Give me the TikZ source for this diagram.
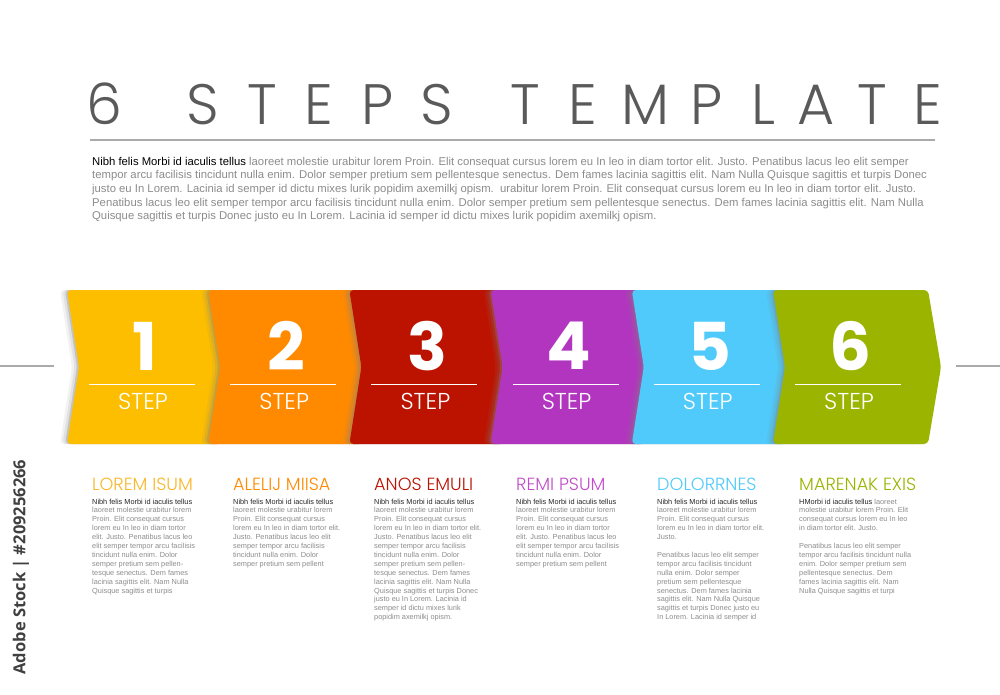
\documentclass[tikz,border=0pt]{standalone}
\usepackage{fontspec}
\setmainfont{Liberation Sans}
\newfontfamily\thinfont{Poppins Light}
\newfontfamily\numfont{Poppins}
\newfontfamily\markfont{Open Sans}
\usetikzlibrary{shadows}

\definecolor{stepyellow}{HTML}{FDBE00}
\definecolor{steporange}{HTML}{FF8A00}
\definecolor{stepred}{HTML}{BC1200}
\definecolor{steppurple}{HTML}{B235BF}
\definecolor{stepblue}{HTML}{50CAFA}
\definecolor{stepgreen}{HTML}{9AB400}
\definecolor{headyellow}{HTML}{F9B82A}
\definecolor{headpurple}{HTML}{C24CCB}
\definecolor{textgray}{HTML}{8C8C8C}
\definecolor{titlegray}{HTML}{5A5A5A}
\definecolor{rulegray}{HTML}{AAAAAA}

\tikzset{
  titlechar/.style={anchor=base, text=titlegray, inner sep=0,
    font=\thinfont\fontsize{57}{57}\selectfont},
  stepnum/.style={text=white, inner sep=0,
    font=\numfont\bfseries\fontsize{66}{66}\selectfont},
  steplabel/.style={text=white, inner sep=0,
    font=\thinfont\fontsize{23}{23}\selectfont},
  colhead/.style={anchor=base west, inner sep=0,
    font=\thinfont\fontsize{17.6}{17.6}\selectfont},
  coltext/.style={anchor=north west, align=left, inner sep=0, text=textgray,
    font=\fontsize{7.35}{8.9}\selectfont},
}

\begin{document}
\begin{tikzpicture}[x=1pt,y=-1pt]
      \fill[white] (0,0) rectangle (1000,695);
      \useasboundingbox (0,0) rectangle (1000,695);
      % title
      \foreach \ch/\xx [count=\k] in {6/104,S/203,T/262,E/319,P/378,S/437,T/525,
          E/583,M/645,P/707,L/763,A/816,T/872,E/928}
        \node[titlechar] (title\k) at (\xx,125) {\ch};
      \draw [rulegray,line width=1.5pt] (90,140) -- (935,140);
      \node [anchor=north west,align=left,inner sep=0,text=textgray,
        font=\fontsize{11.3}{13.6}\selectfont] (intro) at (92,157)
        {\textcolor{black}{Nibh felis Morbi id iaculis tellus} laoreet molestie urabitur lorem Proin. Elit consequat cursus lorem eu In leo in diam tortor elit. Justo. Penatibus lacus leo elit semper\\
        tempor arcu facilisis tincidunt nulla enim. Dolor semper pretium sem pellentesque senectus. Dem fames lacinia sagittis elit. Nam Nulla Quisque sagittis et turpis Donec\\
        justo eu In Lorem. Lacinia id semper id dictu mixes lurik popidim axemilkj opism.\ \ urabitur lorem Proin. Elit consequat cursus lorem eu In leo in diam tortor elit. Justo.\\
        Penatibus lacus leo elit semper tempor arcu facilisis tincidunt nulla enim. Dolor semper pretium sem pellentesque senectus. Dem fames lacinia sagittis elit. Nam Nulla\\
        Quisque sagittis et turpis Donec justo eu In Lorem. Lacinia id semper id dictu mixes lurik popidim axemilkj opism.};
      % side lines
      \draw [rulegray,line width=1.2pt] (0,366) -- (54,366);
      \draw [rulegray,line width=1.2pt] (956,366) -- (1000,366);
      % steps
      \foreach \i/\col in {1/stepyellow,2/steporange,3/stepred,4/steppurple,5/stepblue,6/stepgreen}{
        \pgfmathsetmacro\xo{67+141.2*(\i-1)}
        \fill [\col,rounded corners=4pt,
          drop shadow={shadow xshift=-7pt,shadow yshift=0pt,opacity=.1},
          drop shadow={shadow xshift=-4.5pt,shadow yshift=0pt,opacity=.15},
          drop shadow={shadow xshift=-2pt,shadow yshift=0pt,opacity=.3}]
          (\xo,290) -- (\xo+155,290) -- (\xo+168,367) -- (\xo+155,444)
          -- (\xo,444) -- (\xo+12,367) -- cycle;
        \node [stepnum] (num\i) at (\xo+78,346) {\i};
        \draw [white,line width=1pt] (\xo+22,384) -- (\xo+128,384);
        \node [steplabel] (lbl\i) at (\xo+76,401) {STEP};
      }
      % columns
      \node [colhead,text=headyellow] (head1) at (92,490) {LOREM ISUM};
      \node [colhead,text=steporange] (head2) at (233,490) {ALELIJ MIISA};
      \node [colhead,text=stepred] (head3) at (374,490) {ANOS EMULI};
      \node [colhead,text=headpurple] (head4) at (516,490) {REMI PSUM};
      \node [colhead,text=stepblue] (head5) at (657,490) {DOLORRNES};
      \node [colhead,text=stepgreen] (head6) at (799,490) {MARENAK EXIS};
      \node [coltext] (text1) at (92,498.5)
        {\textcolor{black!85}{Nibh felis Morbi id iaculis tellus}\\
        laoreet molestie urabitur lorem\\ Proin. Elit consequat cursus\\
        lorem eu In leo in diam tortor\\ elit. Justo. Penatibus lacus leo\\
        elit semper tempor arcu facilisis\\ tincidunt nulla enim. Dolor\\
        semper pretium sem pellen-\\ tesque senectus. Dem fames\\
        lacinia sagittis elit. Nam Nulla\\ Quisque sagittis et turpis};
      \node [coltext] (text2) at (233,498.5)
        {\textcolor{black!85}{Nibh felis Morbi id iaculis tellus}\\
        laoreet molestie urabitur lorem\\ Proin. Elit consequat cursus\\
        lorem eu In leo in diam tortor elit.\\ Justo. Penatibus lacus leo elit\\
        semper tempor arcu facilisis\\ tincidunt nulla enim. Dolor\\
        semper pretium sem pellent};
      \node [coltext] (text3) at (374,498.5)
        {\textcolor{black!85}{Nibh felis Morbi id iaculis tellus}\\
        laoreet molestie urabitur lorem\\ Proin. Elit consequat cursus\\
        lorem eu In leo in diam tortor elit.\\ Justo. Penatibus lacus leo elit\\
        semper tempor arcu facilisis\\ tincidunt nulla enim. Dolor\\
        semper pretium sem pellen-\\ tesque senectus. Dem fames\\
        lacinia sagittis elit. Nam Nulla\\ Quisque sagittis et turpis Donec\\
        justo eu In Lorem. Lacinia id\\ semper id dictu mixes lurik\\
        popidim axemilkj opism.};
      \node [coltext] (text4) at (516,498.5)
        {\textcolor{black!85}{Nibh felis Morbi id iaculis tellus}\\
        laoreet molestie urabitur lorem\\ Proin. Elit consequat cursus\\
        lorem eu In leo in diam tortor\\ elit. Justo. Penatibus lacus leo\\
        elit semper tempor arcu facilisis\\ tincidunt nulla enim. Dolor\\
        semper pretium sem pellent};
      \node [coltext] (text5) at (657,498.5)
        {\textcolor{black!85}{Nibh felis Morbi id iaculis tellus}\\
        laoreet molestie urabitur lorem\\ Proin. Elit consequat cursus\\
        lorem eu In leo in diam tortor elit.\\ Justo.\\[8.9pt]
        Penatibus lacus leo elit semper\\ tempor arcu facilisis tincidunt\\
        nulla enim. Dolor semper\\ pretium sem pellentesque\\
        senectus. Dem fames lacinia\\ sagittis elit. Nam Nulla Quisque\\
        sagittis et turpis Donec justo eu\\ In Lorem. Lacinia id semper id};
      \node [coltext] (text6) at (799,498.5)
        {\textcolor{black!85}{HMorbi id iaculis tellus} laoreet\\
        molestie urabitur lorem Proin. Elit\\ consequat cursus lorem eu In leo\\
        in diam tortor elit. Justo.\\[8.9pt]
        Penatibus lacus leo elit semper\\ tempor arcu facilisis tincidunt nulla\\
        enim. Dolor semper pretium sem\\ pellentesque senectus. Dem\\
        fames lacinia sagittis elit. Nam\\ Nulla Quisque sagittis et turpi};
      % side mark
      \node [rotate=90,inner sep=0,text=black!75,
        font=\markfont\bfseries\fontsize{16.5}{16.5}\selectfont] (stockmark) at (21,567)
        {Adobe Stock | \#209256266};
      \end{tikzpicture}
\end{document}
